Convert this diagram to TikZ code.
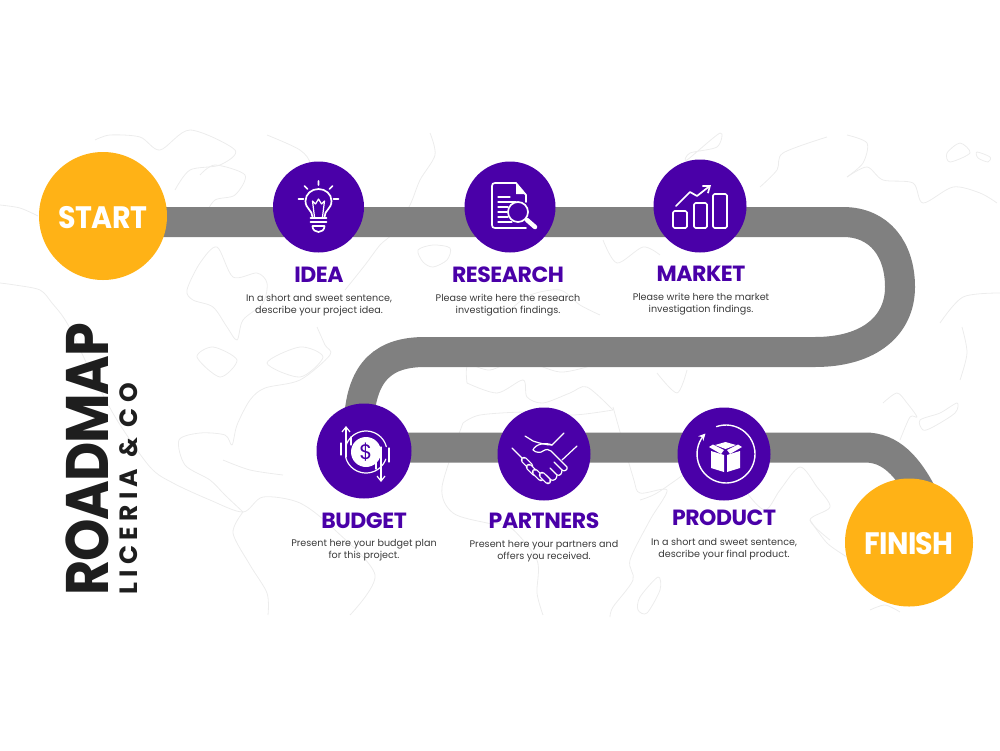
\documentclass[tikz,border=0pt]{standalone}
\usepackage{fontspec}
\setmainfont{Poppins}
\newfontfamily\headfont[LetterSpace=-2]{Poppins}
\newfontfamily\endfont[LetterSpace=-2,FakeStretch=0.92]{Poppins}
\newfontfamily\sidefont[LetterSpace=-2,FakeStretch=0.9]{Poppins}
\newfontfamily\wideheadfont[LetterSpace=21.5]{Poppins}
\usetikzlibrary{arrows.meta,backgrounds}
\definecolor{roadgray}{HTML}{808080}
\definecolor{stoppurple}{HTML}{4A00A8}
\definecolor{endorange}{HTML}{FFB216}
\definecolor{mapgray}{HTML}{ECECEC}
\definecolor{bodygray}{HTML}{3A3A3A}
\definecolor{inkblack}{HTML}{1E1E1E}
\tikzset{
    road/.style={draw=roadgray,line width=30pt},
    mapline/.style={draw=mapgray,line width=0.8pt,line join=round},
    endcircle/.style={circle,fill=endorange,minimum size=128pt,inner sep=0pt},
    endlabel/.style={inner sep=0pt,text=white,font=\endfont\bfseries\fontsize{31}{31}\selectfont},
    stopcircle/.style={circle,fill=stoppurple,inner sep=0pt},
    stoptitle/.style={text=stoppurple,inner sep=0pt,font=\headfont\bfseries\fontsize{22}{22}\selectfont},
    stopnote/.style={text=bodygray,inner sep=0pt,align=center,font=\fontsize{9.6}{12.2}\selectfont},
    iconline/.style={draw=white,line width=1.7pt,line cap=round,line join=round},
}
\begin{document}
\begin{tikzpicture}[x=1pt,y=-1pt]
    \useasboundingbox (0,0) rectangle (1000,750);

    % end points and stops
    \node[endcircle] (start) at (103,216) {};
    \node[endlabel] (startlabel) at (103,218) {START};
    \node[endcircle] (finish) at (909,542.5) {};
    \node[endlabel] (finishlabel) at (909,544) {FINISH};
    \node[stopcircle,minimum size=91pt] (idea) at (318.5,207) {};
    \node[stopcircle,minimum size=91pt] (research) at (510,207) {};
    \node[stopcircle,minimum size=93pt] (market) at (700,206) {};
    \node[stopcircle,minimum size=95pt] (budget) at (364,451) {};
    \node[stopcircle,minimum size=93pt] (partners) at (544,454) {};
    \node[stopcircle,minimum size=93pt] (product) at (724,454) {};

    % titles and notes
    \node[stoptitle] (ideatitle) at (319,275) {IDEA};
    \node[stoptitle] (researchtitle) at (508,275) {RESEARCH};
    \node[stoptitle] (markettitle) at (701,274) {MARKET};
    \node[stoptitle] (budgettitle) at (364,521) {BUDGET};
    \node[stoptitle] (partnerstitle) at (544,521) {PARTNERS};
    \node[stoptitle] (producttitle) at (724,518) {PRODUCT};
    \node[stopnote] (ideanote) at (319,305) {In a short and sweet sentence,\\describe your project idea.};
    \node[stopnote] (researchnote) at (508,305) {Please write here the research\\investigation findings.};
    \node[stopnote] (marketnote) at (701,304) {Please write here the market\\investigation findings.};
    \node[stopnote] (budgetnote) at (364,550) {Present here your budget plan\\for this project.};
    \node[stopnote] (partnersnote) at (544,551) {Present here your partners and\\offers you received.};
    \node[stopnote] (productnote) at (724,549) {In a short and sweet sentence,\\describe your final product.};

    % side title
    \node[rotate=90,anchor=base west,inner sep=0pt,text=inkblack,font=\sidefont\bfseries\fontsize{60}{60}\selectfont] (roadmap) at (108,596) {ROADMAP};
    \node[rotate=90,anchor=base west,inner sep=0pt,text=inkblack,font=\wideheadfont\bfseries\fontsize{25}{25}\selectfont] (liceria) at (137,595) {LICERIA \& CO};

    % idea icon
    \begin{scope}[shift={(idea.center)}]
        \draw[iconline] (-6,10) .. controls (-6,3) and (-13,2) .. (-13,-6) .. controls (-13,-13) and (-7,-18) .. (0,-18) .. controls (7,-18) and (13,-13) .. (13,-6) .. controls (13,2) and (6,3) .. (6,10);
        \draw[iconline,line width=1.2pt] (-4,10) -- (-6,-6) -- (-3,-3) -- (0,-8) -- (3,-3) -- (6,-6) -- (4,10);
        \draw[iconline] (-8,11) -- (8,11) (-8,15) -- (8,15);
        \draw[iconline] (-6,19) -- (6,19) .. controls (6,23) and (3,25) .. (0,25) .. controls (-3,25) and (-6,23) .. (-6,19);
        \draw[iconline] (0,-26) -- (0,-22) (-14,-21) -- (-11,-18) (14,-21) -- (11,-18) (-20,-8) -- (-15,-8) (20,-8) -- (15,-8);
    \end{scope}

    % research icon
    \begin{scope}[shift={(research.center)}]
        \draw[iconline] (6,-24) -- (-15,-24) .. controls (-17,-24) and (-18,-23) .. (-18,-21) -- (-18,18) .. controls (-18,20) and (-17,21) .. (-15,21) -- (16,21) (16,-12) -- (16,-5);
        \fill[white] (6,-24) -- (16,-13) -- (6,-13) -- cycle;
        \draw[iconline] (6,-24) -- (16,-12);
        \draw[iconline,line width=1.2pt] (-12,-10) -- (0,-10) (-12,-5) -- (6,-5) (-12,0) -- (-2,0) (-12,5) -- (-3,5) (-12,10) -- (-2,10) (-12,15) -- (2,15);
        \fill[stoppurple] (8,5) circle[radius=10];
        \draw[iconline] (8,5) circle[radius=10];
        \draw[iconline,line width=4.5pt] (17,13) -- (25,20);
    \end{scope}

    % market icon
    \begin{scope}[shift={(market.center)}]
        \draw[iconline,rounded corners=1.5pt] (-27,5) rectangle (-13,22);
        \draw[iconline,rounded corners=1.5pt] (-6,-3) rectangle (7,22);
        \draw[iconline,rounded corners=1.5pt] (13,-12) rectangle (27,22);
        \draw[iconline,-{Straight Barb[length=6pt,width=9pt]}] (-24,0) -- (-10,-14) -- (-3,-10) -- (11,-21);
    \end{scope}

    % budget icon
    \begin{scope}[shift={(budget.center)}]
        \fill[white] (2,1) circle[radius=15];
        \node[text=stoppurple,inner sep=0pt,font=\fontsize{21}{21}\selectfont] (dollar) at (2,1) {\$};
        \draw[iconline,line width=1.2pt] plot[smooth,domain=200:345,samples=25] ({2+21*cos(\x)},{1+21*sin(\x)});
        \draw[iconline,line width=1.2pt] plot[smooth,domain=20:165,samples=25] ({2+21*cos(\x)},{1+21*sin(\x)});
        \draw[iconline,line width=1.2pt,-{Straight Barb[length=5pt,width=8pt]}] (-18,6) -- (-18,-25);
        \draw[iconline,line width=1.2pt] (-23,4) -- (-23,-8) (-13,-6) -- (-13,-14);
        \draw[iconline,line width=1.2pt,-{Straight Barb[length=5pt,width=8pt]}] (17,-4) -- (17,31);
        \draw[iconline,line width=1.2pt] (25,-3) -- (25,11) (12,8) -- (12,18);
    \end{scope}

    % partners icon
    \begin{scope}[shift={(partners.center)}]
        \draw[iconline,line width=1.2pt] (-32,-6) -- (-17,9) (33,-8) -- (18,6);
        \draw[iconline,line width=1.2pt] (-19,-18) -- (-11,-13) .. controls (-5,-11) and (2,-9) .. (8,-9) -- (20,-21);
        \draw[iconline,line width=1.2pt] (8,-9) .. controls (2,-12) and (-9,-10) .. (-11,-4) .. controls (-8,-1) and (-3,-1) .. (-1,-3) .. controls (2,-5) and (5,-5) .. (7,-3) -- (23,13) .. controls (24,16) and (20,18) .. (18,16) -- (10,8);
        \draw[iconline,line width=1.2pt] (18,16) .. controls (18,20) and (16,22) .. (13,21) -- (6,14) (13,21) .. controls (13,25) and (10,27) .. (7,26) -- (2,21) (7,26) .. controls (6,28) and (3,28) .. (1,27);
        \foreach \fingerx/\fingery in {-17/9,-12/16,-6/21,1/24} {
            \draw[white,line width=6.5pt,line cap=round] (\fingerx-3,\fingery-3) -- (\fingerx+3,\fingery+3);
            \draw[stoppurple,line width=3.9pt,line cap=round] (\fingerx-3,\fingery-3) -- (\fingerx+3,\fingery+3);
        }
    \end{scope}

    % product icon
    \begin{scope}[shift={(product.center)}]
        \draw[iconline,line width=1.4pt,-{Stealth[length=7pt,width=7pt]}] plot[smooth,domain=251:585,samples=50] ({2+29*cos(\x)},{29*sin(\x)});
        \fill[white] (0,1) -- (-13,-3) -- (-13,14) -- (0,18) -- cycle;
        \fill[white] (3,1) -- (16,-3) -- (16,14) -- (3,18) -- cycle;
        \fill[white] (1.5,-12) -- (-9,-9) -- (1.5,-5) -- (12,-9) -- cycle;
        \fill[white] (-15,-7) -- (-11,-9.5) -- (0,-4) -- (-3,0) -- cycle;
        \fill[white] (18,-7) -- (14,-9.5) -- (3,-4) -- (6,0) -- cycle;
    \end{scope}

    % road and world map go behind the stops
    \begin{scope}[on background layer]
        % North America
        \draw[mapline] plot[smooth] coordinates {(0,205) (20,208) (38,216)};
        \draw[mapline] plot[smooth] coordinates {(0,283) (15,285) (40,290) (52,303) (67,323) (90,370) (117,420) (150,467) (173,483) (210,500) (243,512) (263,497) (300,503) (335,530) (375,575) (350,615)};
        \draw[mapline] plot[smooth] coordinates {(243,512) (233,533) (250,565) (267,593) (268,615)};
        \draw[mapline] plot[smooth cycle] coordinates {(187,290) (200,263) (217,247) (233,277) (257,273) (267,283) (263,303) (243,320) (237,340) (227,327) (213,307) (193,300)};
        \draw[mapline] plot[smooth] coordinates {(95,140) (110,135) (140,137) (160,150) (190,130) (235,150) (220,165) (190,170) (175,190)};
        \draw[mapline] plot[smooth] coordinates {(200,175) (215,165) (245,175) (235,195) (215,200) (205,215)};
        \draw[mapline] plot[smooth] coordinates {(267,135) (300,150) (310,165) (295,185)};
        \draw[mapline] plot[smooth] coordinates {(430,133) (435,155) (420,180) (410,205) (393,233) (380,245) (365,265) (345,290)};
        \draw[mapline] plot[smooth cycle] coordinates {(197,357) (213,347) (237,360) (220,377)};
        \draw[mapline] plot[smooth cycle] coordinates {(267,363) (300,347) (323,357) (300,377)};
        \draw[mapline] plot[smooth] coordinates {(317,327) (325,345) (330,355) (300,380) (265,388) (250,400) (237,425) (232,445) (225,435) (200,433) (179,440) (185,465) (210,480) (225,495) (243,512)};
        \draw[mapline] plot[smooth] coordinates {(223,460) (250,470) (283,475)};
        \draw[mapline] plot[smooth cycle] coordinates {(418,250) (433,245) (450,248) (447,260) (433,267) (423,262)};
        % Europe and Africa
        \draw[mapline] plot[smooth] coordinates {(467,383) (497,393) (523,380) (527,397) (543,403) (570,393) (587,387) (613,410)};
        \draw[mapline] plot[smooth] coordinates {(463,423) (480,415) (527,412) (573,415) (613,410)};
        \draw[mapline] plot[smooth] coordinates {(463,423) (442,487) (453,513) (487,523) (510,527) (537,560) (537,593) (543,615)};
        \draw[mapline] plot[smooth] coordinates {(613,407) (633,477) (640,493) (667,490) (650,520) (630,560) (633,580) (613,607) (610,617)};
        \draw[mapline] plot[smooth cycle] coordinates {(640,597) (658,577) (660,590) (647,613) (638,610)};
        \draw[mapline] plot[smooth] coordinates {(467,383) (468,365) (490,370) (520,360) (560,372) (593,365)};
        \draw[mapline] plot[smooth] coordinates {(603,240) (617,263) (643,247) (660,255)};
        \draw[mapline] plot[smooth] coordinates {(510,310) (530,295) (560,290) (580,305) (600,315)};
        \draw[mapline] plot[smooth] coordinates {(657,373) (677,393) (687,370)};
        % Asia
        \draw[mapline] plot[smooth cycle] coordinates {(687,160) (720,133) (717,147) (690,153)};
        \draw[mapline] plot[smooth] coordinates {(760,187) (777,170) (783,153) (827,137)};
        \draw[mapline] plot[smooth] coordinates {(847,177) (867,167) (883,180) (913,183) (923,203) (953,187) (980,193) (997,203)};
        \draw[mapline] plot[smooth] coordinates {(847,135) (867,143) (863,163) (847,177)};
        \draw[mapline] plot[smooth cycle] coordinates {(947,153) (960,143) (970,153) (950,162)};
        \draw[mapline] plot[smooth cycle] coordinates {(977,152) (990,157) (988,162) (978,158)};
        \draw[mapline] plot[smooth] coordinates {(940,323) (963,297) (1000,293)};
        \draw[mapline] plot[smooth] coordinates {(962,327) (967,353) (960,380)};
        \draw[mapline] plot[smooth cycle] coordinates {(920,420) (940,413) (957,403) (955,413) (933,427) (923,430)};
        \draw[mapline] plot[smooth] coordinates {(883,403) (897,393) (907,403) (917,417) (910,417) (900,440)};
        \draw[mapline] plot[smooth] coordinates {(733,463) (745,490) (765,510) (780,490) (800,467) (817,487) (830,507) (810,520) (830,540)};
        \draw[mapline] plot[smooth] coordinates {(810,520) (827,543) (847,557)};
        \draw[mapline] plot[smooth] coordinates {(640,500) (657,493) (690,470)};
        \draw[mapline] plot[smooth] coordinates {(870,610) (885,605) (900,612)};

        % road
        \coordinate (roadstart) at (150,222);
        \coordinate (roadturn) at (843,222);
        \coordinate (roadback) at (815,352);
        \coordinate (roadleft) at (425,352);
        \coordinate (roaddown) at (359,420);
        \coordinate (roadrow) at (865,447.5);
        \coordinate (roadend) at (925,500);
        \draw[road] (roadstart) -- (roadturn) .. controls (880,222) and (900,250) .. (900,287) .. controls (900,325) and (870,352) .. (roadback) -- (roadleft) .. controls (385,352) and (362,370) .. (roaddown);
        \draw[road] (budget.center |- roadrow) -- (roadrow) .. controls (890,447.5) and (908,465) .. (roadend);
    \end{scope}
\end{tikzpicture}
\end{document}
